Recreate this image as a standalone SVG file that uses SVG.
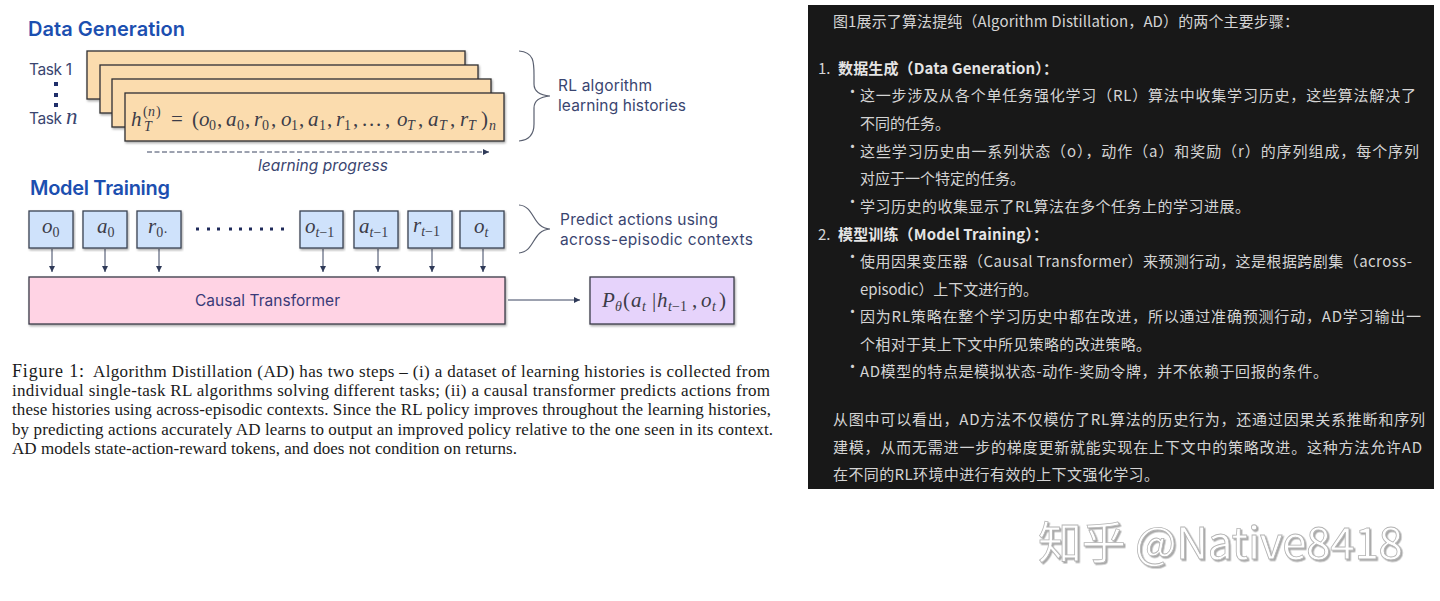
<svg xmlns="http://www.w3.org/2000/svg" width="1440" height="601" viewBox="0 0 1440 601">
<style>
.h{font:600 20px "Inter","Noto Sans",sans-serif;fill:#1c4fb0}
.l{font:15.5px "Inter","Noto Sans",sans-serif;fill:#3a4570}
.m{font:italic 21px "Liberation Serif",serif;fill:#3c3c48}
.s{font-size:14px}
.n{font-style:normal}
.o{fill:#fbdcae;stroke:#2f2f33;stroke-width:1.3}
.b{fill:#cfe2fb;stroke:#3a4252;stroke-width:1.3}
.c{fill:none;stroke:#5a6070;stroke-width:1.2}
.e{stroke:#3a4560;stroke-width:1;fill:none;marker-end:url(#a)}
.cap{font:17px "Liberation Serif",serif;fill:#1a1a1a}
.t{font:15px "Noto Sans CJK SC","Noto Sans",sans-serif;fill:#d4d4d4}
.tb{font:700 15px "Noto Sans CJK SC","Noto Sans",sans-serif;fill:#e4e4e4}
</style>
<defs>
<marker id="a" markerWidth="7" markerHeight="6" refX="6" refY="3" orient="auto" markerUnits="userSpaceOnUse"><path d="M0 0L6 3L0 6Z" fill="#2f3a58"/></marker>
<filter id="sh" x="-5%" y="-5%" width="110%" height="115%"><feDropShadow dx="1" dy="1.5" stdDeviation="1" flood-color="#000" flood-opacity=".35"/></filter>
<filter id="wm" x="-2%" y="-10%" width="104%" height="120%"><feDropShadow dx="1.5" dy="1.5" stdDeviation=".3" flood-color="#a8a8a8" flood-opacity="1"/></filter>
</defs>
<rect width="1440" height="601" fill="#fff"/>
<text class="h" x="28" y="36" textLength="157">Data Generation</text>
<text class="l" x="29" y="75" textLength="43">Task 1</text>
<g fill="#1f2f6a"><rect x="54" y="82" width="4" height="4"/><rect x="54" y="93" width="4" height="4"/><rect x="54" y="103" width="4" height="4"/></g>
<text class="l" x="29" y="124" textLength="33">Task</text><text x="66" y="124" font-family="Liberation Serif" font-style="italic" font-size="23" fill="#3a4570">n</text>
<g id="history-stack" filter="url(#sh)">
<rect class="o" x="87" y="51" width="378" height="48"/>
<rect class="o" x="100" y="65" width="378" height="48"/>
<rect class="o" x="112" y="79" width="379" height="48"/>
<rect class="o" x="125" y="93" width="379" height="48"/>
</g>
<text id="history-formula" class="m"><tspan x="131" y="126">h</tspan><tspan class="s" x="144" y="131">T</tspan><tspan class="s n" x="143" y="116">(</tspan><tspan class="s" x="148" y="116">n</tspan><tspan class="s n" x="156" y="116">)</tspan><tspan class="n" x="171" y="126">=</tspan><tspan class="n" x="192" y="126">(</tspan><tspan x="199" y="126">o</tspan><tspan class="s n" x="209" y="130">0</tspan><tspan class="n" x="217" y="126">,</tspan><tspan x="226" y="126">a</tspan><tspan class="s n" x="237" y="130">0</tspan><tspan class="n" x="245" y="126">,</tspan><tspan x="254" y="126">r</tspan><tspan class="s n" x="262" y="130">0</tspan><tspan class="n" x="271" y="126">,</tspan><tspan x="281" y="126">o</tspan><tspan class="s n" x="291" y="130">1</tspan><tspan class="n" x="299" y="126">,</tspan><tspan x="308" y="126">a</tspan><tspan class="s n" x="319" y="130">1</tspan><tspan class="n" x="327" y="126">,</tspan><tspan x="336" y="126">r</tspan><tspan class="s n" x="344" y="130">1</tspan><tspan class="n" x="353" y="126">,</tspan><tspan class="n" x="362" y="126">.</tspan><tspan class="n" x="369" y="126">.</tspan><tspan class="n" x="376" y="126">.</tspan><tspan class="n" x="385" y="126">,</tspan><tspan x="397" y="126">o</tspan><tspan class="s" x="407" y="130">T</tspan><tspan class="n" x="418" y="126">,</tspan><tspan x="428" y="126">a</tspan><tspan class="s" x="439" y="130">T</tspan><tspan class="n" x="450" y="126">,</tspan><tspan x="460" y="126">r</tspan><tspan class="s" x="468" y="130">T</tspan><tspan class="n" x="481" y="126">)</tspan><tspan class="s" x="489" y="130">n</tspan></text>
<path d="M519 51C535 52 534 64 534 78V84C534 90 538 95 550 96C538 97 534 102 534 108V124C534 134 530 140 519 141" class="c"/>
<text class="l" x="558" y="91" textLength="94">RL algorithm</text>
<text class="l" x="558" y="111" textLength="128">learning histories</text>
<g id="connectors">
<path class="e" d="M147 152H489" stroke-dasharray="5 2.5"/>
<path class="e" d="M52 249V272"/>
<path class="e" d="M105 249V272"/>
<path class="e" d="M159 249V272"/>
<path class="e" d="M323 249V272"/>
<path class="e" d="M378 249V272"/>
<path class="e" d="M432 249V272"/>
<path class="e" d="M483 249V272"/>
<path class="e" d="M508 300H580"/>
</g>
<text x="258" y="171" class="l" style="font-style:italic" textLength="130">learning progress</text>
<text class="h" x="30" y="195" textLength="140">Model Training</text>
<g id="token-o0"><rect class="b" x="29" y="211" width="44" height="37" filter="url(#sh)"/><text class="m" x="42" y="233">o<tspan class="s n" dy="4">0</tspan></text></g>
<g id="token-a0"><rect class="b" x="83" y="211" width="44" height="37" filter="url(#sh)"/><text class="m" x="97" y="233">a<tspan class="s n" dy="4">0</tspan></text></g>
<g id="token-r0"><rect class="b" x="137" y="211" width="44" height="37" filter="url(#sh)"/><text class="m" x="148" y="233">r<tspan class="s n" dy="4">0·</tspan></text></g>
<g id="ellipsis" fill="#1f2a5a"><rect x="196" y="227.500" width="3" height="3"/><rect x="207" y="227.500" width="3" height="3"/><rect x="217" y="227.500" width="3" height="3"/><rect x="229" y="227.500" width="3" height="3"/><rect x="239" y="227.500" width="3" height="3"/><rect x="249" y="227.500" width="3" height="3"/><rect x="260" y="227.500" width="3" height="3"/><rect x="270" y="227.500" width="3" height="3"/><rect x="281" y="227.500" width="3" height="3"/></g>
<g id="token-ot1"><rect class="b" x="300" y="211" width="43" height="37" filter="url(#sh)"/><text class="m" x="305" y="233">o<tspan class="s" dy="4">t</tspan><tspan class="s n">−1</tspan></text></g>
<g id="token-at1"><rect class="b" x="354" y="211" width="44" height="37" filter="url(#sh)"/><text class="m" x="359" y="233">a<tspan class="s" dy="4">t</tspan><tspan class="s n">−1</tspan></text></g>
<g id="token-rt1"><rect class="b" x="408" y="211" width="44" height="37" filter="url(#sh)"/><text class="m" x="413" y="232">r<tspan class="s" dy="4">t</tspan><tspan class="s n">−1</tspan></text></g>
<g id="token-ot"><rect class="b" x="460" y="211" width="44" height="37" filter="url(#sh)"/><text class="m" x="474" y="233">o<tspan class="s" dy="4">t</tspan></text></g>
<path d="M519 205C535 206 532 228 550 229C532 230 535 252 519 253" class="c"/>
<text class="l" x="560" y="225" textLength="158">Predict actions using</text>
<text class="l" x="560" y="245" textLength="193">across-episodic contexts</text>
<g id="causal-transformer"><rect x="29" y="277" width="476" height="47" fill="#ffd3e4" stroke="#3a3a48" stroke-width="1.3" filter="url(#sh)"/><text class="l" x="195" y="306" textLength="145" style="fill:#3a3a78">Causal Transformer</text></g>
<g id="policy-output"><rect x="590" y="277" width="144" height="47" fill="#e6d3fb" stroke="#3a3a48" stroke-width="1.3" filter="url(#sh)"/><text class="m"><tspan x="602" y="307">P</tspan><tspan class="s" x="615" y="311">θ</tspan><tspan class="n" x="623" y="307">(</tspan><tspan x="631" y="307">a</tspan><tspan class="s" x="642" y="311">t</tspan><tspan class="n" x="652" y="307">|</tspan><tspan x="657" y="307">h</tspan><tspan class="s" x="668" y="311">t</tspan><tspan class="s n" x="672" y="311">−1</tspan><tspan class="n" x="692" y="307">,</tspan><tspan x="701" y="307">o</tspan><tspan class="s" x="712" y="311">t</tspan><tspan class="n" x="719" y="307">)</tspan></text></g>
<g id="caption">
<text class="cap" x="12" y="377" style="font-size:18px" textLength="72">Figure 1:</text>
<text class="cap" x="93" y="377" textLength="677">Algorithm Distillation (AD) has two steps – (i) a dataset of learning histories is collected from</text>
<text class="cap" x="12" y="396" textLength="758">individual single-task RL algorithms solving different tasks; (ii) a causal transformer predicts actions from</text>
<text class="cap" x="12" y="415" textLength="759">these histories using across-episodic contexts. Since the RL policy improves throughout the learning histories,</text>
<text class="cap" x="12" y="435" textLength="761">by predicting actions accurately AD learns to output an improved policy relative to the one seen in its context.</text>
<text class="cap" x="12" y="454" textLength="505">AD models state-action-reward tokens, and does not condition on returns.</text>
</g>
<g id="answer-panel">
<rect x="808" y="5" width="626" height="484" fill="#181818"/>
<text class="t" x="833" y="27" textLength="466">图1展示了算法提纯（Algorithm Distillation，AD）的两个主要步骤：</text>
<text class="t" x="818" y="74">1.</text>
<text class="tb" x="838" y="74" textLength="220">数据生成（Data Generation）：</text>
<text class="t" x="845" y="97">•</text>
<text class="t" x="860" y="101" textLength="556">这一步涉及从各个单任务强化学习（RL）算法中收集学习历史，这些算法解决了</text>
<text class="t" x="860" y="129">不同的任务。</text>
<text class="t" x="845" y="152">•</text>
<text class="t" x="860" y="157" textLength="559">这些学习历史由一系列状态（o），动作（a）和奖励（r）的序列组成，每个序列</text>
<text class="t" x="860" y="184">对应于一个特定的任务。</text>
<text class="t" x="845" y="207">•</text>
<text class="t" x="860" y="212" textLength="390">学习历史的收集显示了RL算法在多个任务上的学习进展。</text>
<text class="t" x="818" y="240">2.</text>
<text class="tb" x="838" y="240" textLength="210">模型训练（Model Training）：</text>
<text class="t" x="845" y="262">•</text>
<text class="t" x="860" y="267" textLength="552">使用因果变压器（Causal Transformer）来预测行动，这是根据跨剧集（across-</text>
<text class="t" x="860" y="295" textLength="178">episodic）上下文进行的。</text>
<text class="t" x="845" y="317">•</text>
<text class="t" x="860" y="322" textLength="561">因为RL策略在整个学习历史中都在改进，所以通过准确预测行动，AD学习输出一</text>
<text class="t" x="860" y="350" textLength="291">个相对于其上下文中所见策略的改进策略。</text>
<text class="t" x="845" y="372">•</text>
<text class="t" x="860" y="377" textLength="468">AD模型的特点是模拟状态-动作-奖励令牌，并不依赖于回报的条件。</text>
<text class="t" x="833" y="425" textLength="592">从图中可以看出，AD方法不仅模仿了RL算法的历史行为，还通过因果关系推断和序列</text>
<text class="t" x="833" y="453" textLength="589">建模，从而无需进一步的梯度更新就能实现在上下文中的策略改进。这种方法允许AD</text>
<text class="t" x="833" y="480" textLength="326">在不同的RL环境中进行有效的上下文强化学习。</text>
</g>
<text id="watermark" x="1038" y="559" textLength="365" font-family="'Noto Sans CJK SC','Noto Sans',sans-serif" font-size="44" fill="#fff" stroke="#b4b4b4" stroke-width=".8" filter="url(#wm)">知乎 @Native8418</text>
</svg>
